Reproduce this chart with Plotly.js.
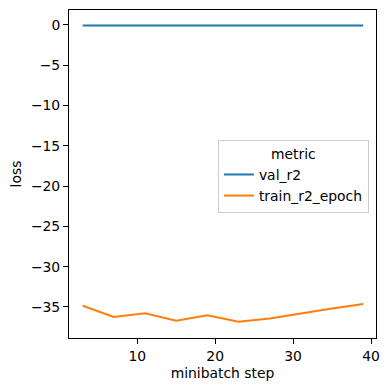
<!DOCTYPE html>
<html>
<head>
<meta charset="utf-8">
<script src="https://cdn.plot.ly/plotly-3.0.1.min.js"></script>
<style>html,body{margin:0;padding:0;background:#fff;}#chart{width:390px;height:390px;}</style>
</head>
<body>
<div id="chart"></div>
<script>
const steps = [3, 7, 11, 15, 19, 23, 27, 31, 35, 39];
const valR2 = [-0.05, -0.05, -0.05, -0.05, -0.05, -0.05, -0.05, -0.05, -0.05, -0.05];
const trainR2Epoch = [-34.84, -36.24, -35.79, -36.7, -36.04, -36.82, -36.44, -35.8, -35.2, -34.63];
const seriesNames = ["val_r2", "train_r2_epoch"];
const xTicks = [10, 20, 30, 40];
const yTicks = [0, -5, -10, -15, -20, -25, -30, -35];

const font = {family: "DejaVu Sans, sans-serif", size: 13.9, color: "#000"};
const traces = [
  {x: steps, y: valR2, name: seriesNames[0], mode: "lines", line: {color: "#1f77b4", width: 2}},
  {x: steps, y: trainR2Epoch, name: seriesNames[1], mode: "lines", line: {color: "#ff7f0e", width: 2}}
];
const axisCommon = {
  showline: true, mirror: true, linecolor: "#000", linewidth: 1,
  ticks: "outside", ticklen: 5, tickwidth: 1, tickcolor: "#000",
  showgrid: false, zeroline: false, tickfont: font
};
const layout = {
  width: 390, height: 390,
  margin: {l: 69, r: 14, t: 10, b: 52},
  paper_bgcolor: "#fff", plot_bgcolor: "#fff",
  font: font,
  showlegend: true,
  xaxis: Object.assign({}, axisCommon, {
    range: [1.24, 40.64], tickvals: xTicks, ticktext: xTicks.map(String),
    title: {text: "minibatch step", font: font, standoff: 5}
  }),
  yaxis: Object.assign({}, axisCommon, {
    range: [-38.85, 1.86], tickvals: yTicks, ticktext: yTicks.map(v => v < 0 ? "\u2212" + Math.abs(v) : String(v)),
    title: {text: "loss", font: font, standoff: 6}
  }),
  legend: {
    x: 0.485, y: 0.604, xanchor: "left", yanchor: "top",
    bgcolor: "rgba(255,255,255,0.8)", bordercolor: "#cccccc", borderwidth: 1,
    font: font,
    title: {text: "metric", font: font, side: "top center"}
  }
};
Plotly.newPlot("chart", traces, layout, {displayModeBar: false, staticPlot: true});
</script>
</body>
</html>
